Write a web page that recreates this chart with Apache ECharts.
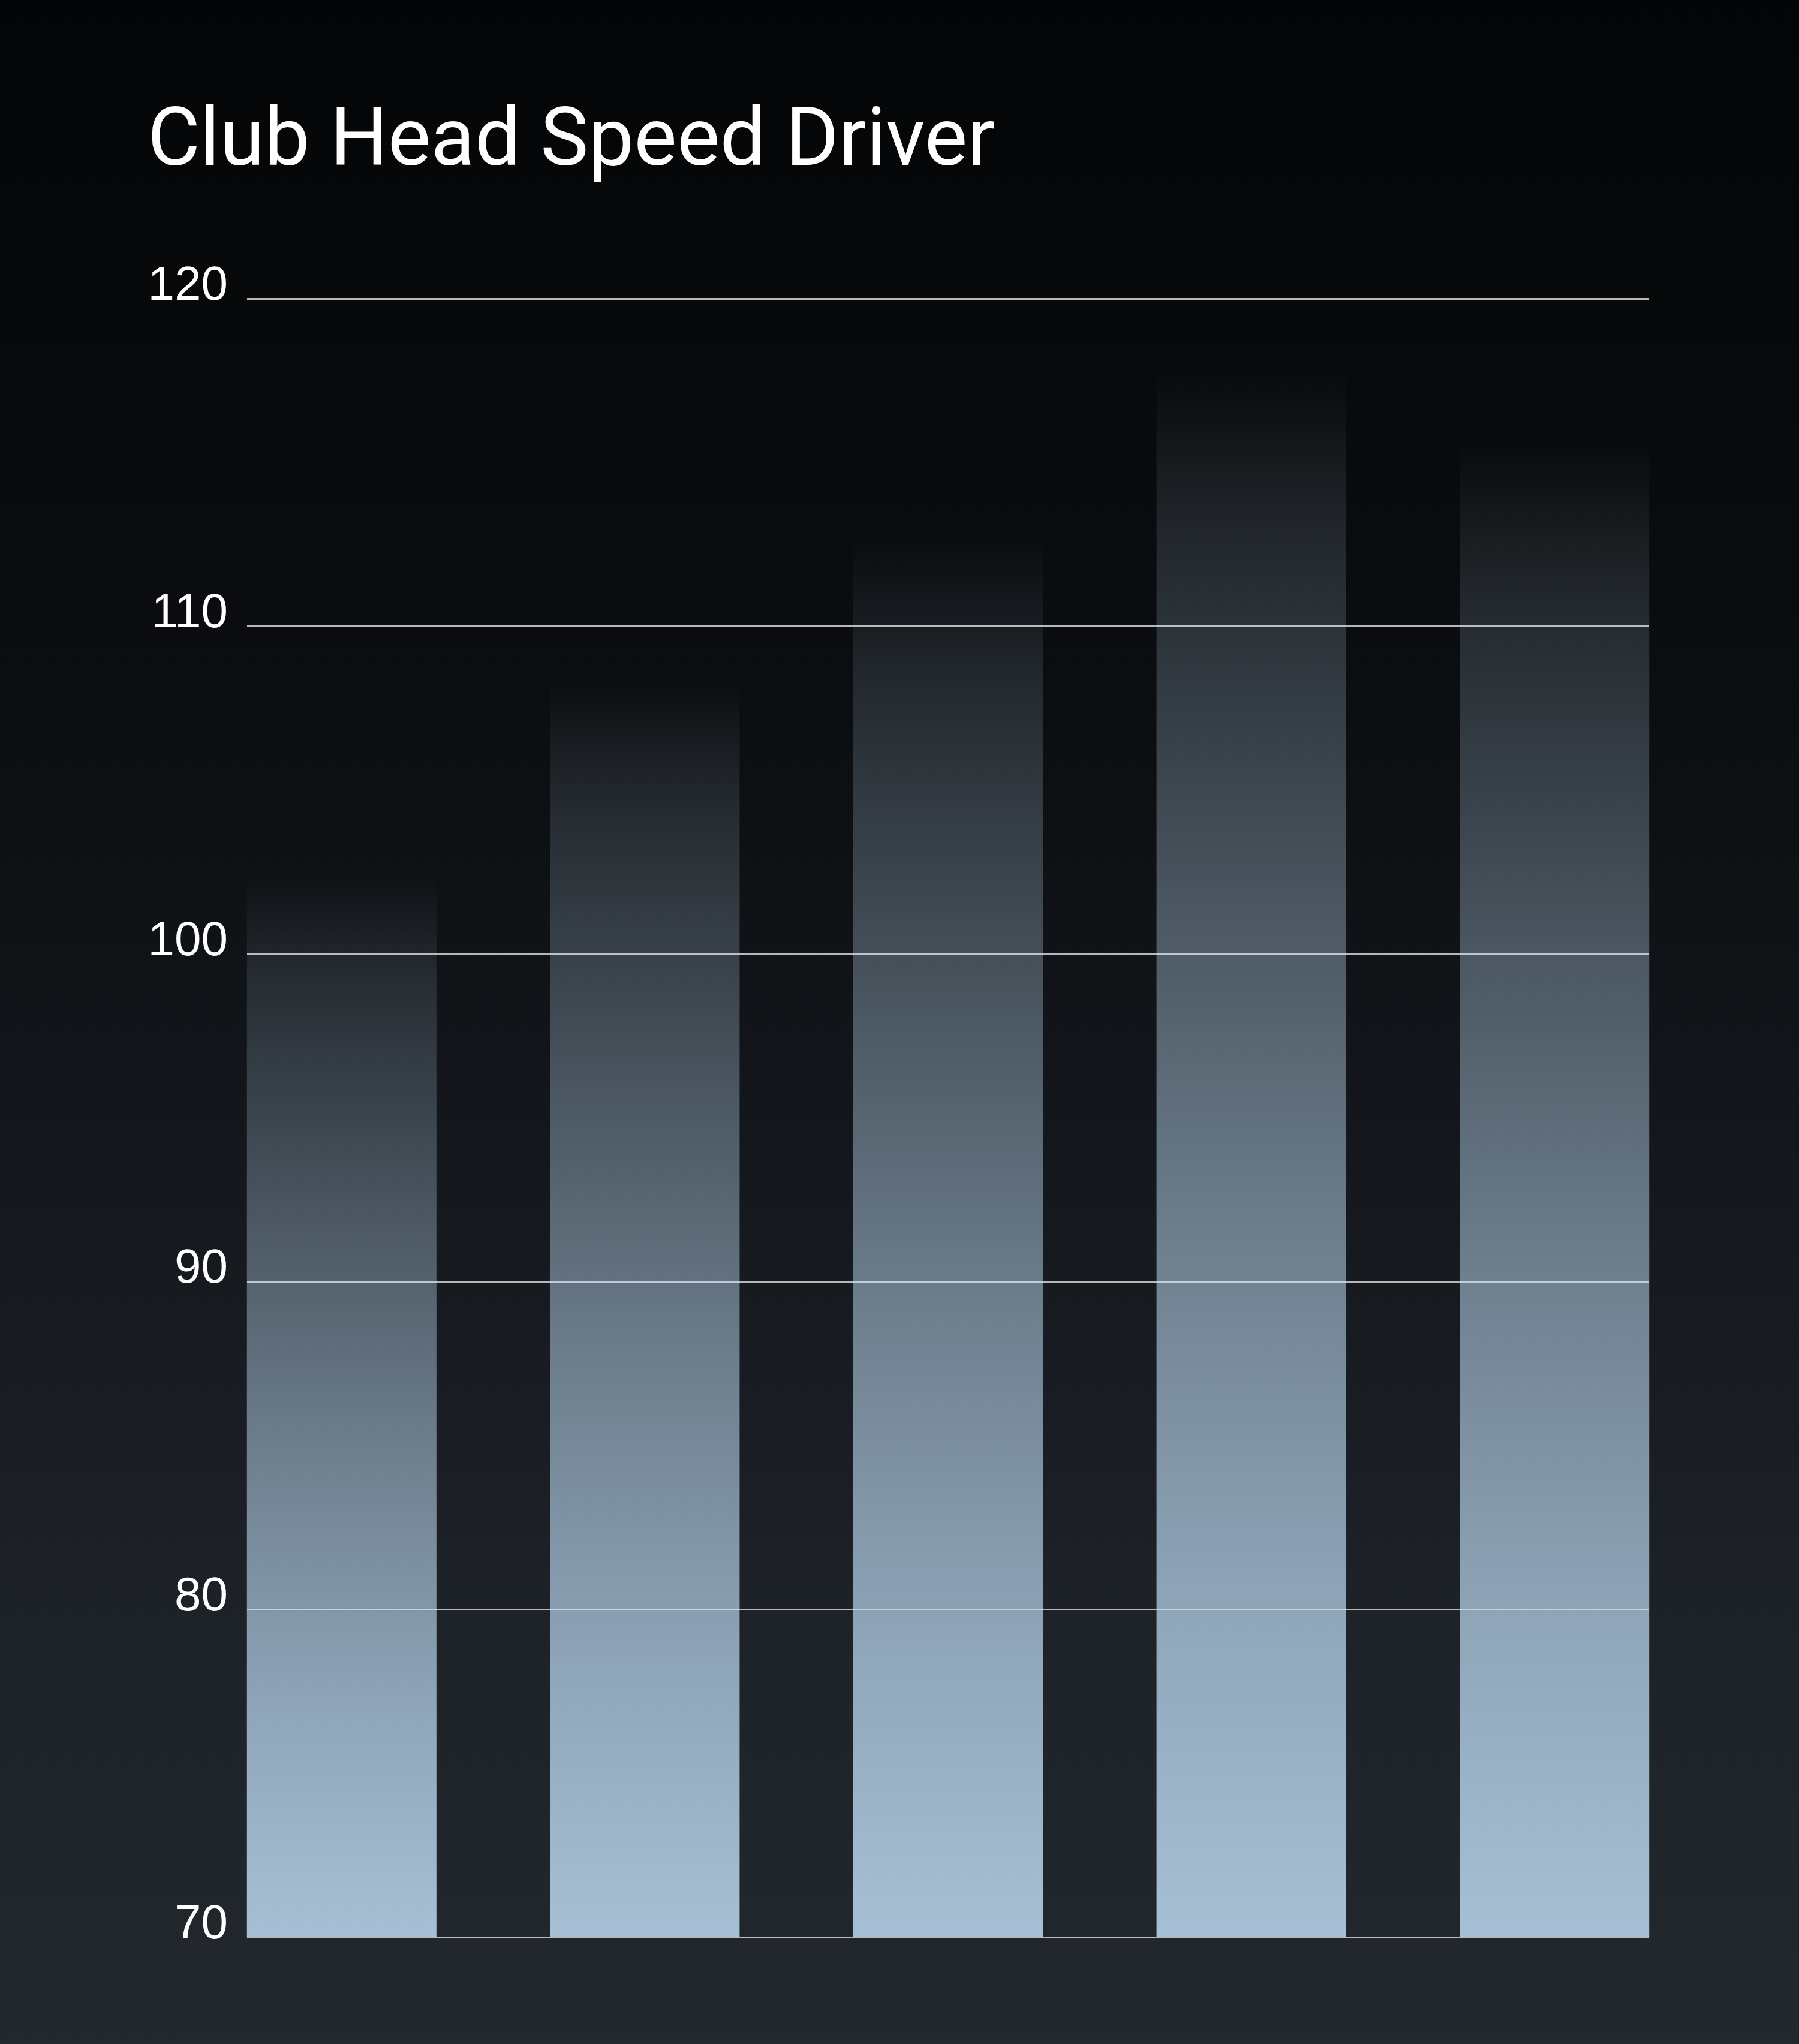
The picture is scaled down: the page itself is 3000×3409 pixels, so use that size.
<!DOCTYPE html>
<html>
<head>
<meta charset="utf-8">
<title>Club Head Speed Driver</title>
<script src="https://cdn.jsdelivr.net/npm/echarts@6.0.0/dist/echarts.min.js"></script>
<style>
    html, body { margin: 0; padding: 0; background: #0b0c0f; }
    #speedChart { width: 3000px; height: 3409px; }
</style>
</head>
<body>
<div id="speedChart"></div>
<script>
// data
var sessions = ['1', '2', '3', '4', '5'];
var speeds = [102.4, 108.4, 112.8, 117.9, 115.7];
var yTicks = [70, 80, 90, 100, 110, 120];

var myChart = echarts.init(document.getElementById('speedChart'));

// bar fades out to transparent at its top
var barColor = new echarts.graphic.LinearGradient(0, 0, 0, 1, [
    {offset: 0, color: 'rgba(199,230,255,0)'},
    {offset: 0.1, color: 'rgba(199,230,255,0.12)'},
    {offset: 0.4, color: 'rgba(199,230,255,0.37)'},
    {offset: 0.6, color: 'rgba(199,230,255,0.53)'},
    {offset: 0.8, color: 'rgba(199,230,255,0.68)'},
    {offset: 1, color: 'rgba(199,230,255,0.80)'}
]);

var option = {
    backgroundColor: new echarts.graphic.LinearGradient(0, 0, 0, 1, [
        {offset: 0, color: '#040506'},
        {offset: 0.3, color: '#0a0c0f'},
        {offset: 0.5, color: '#111418'},
        {offset: 0.78, color: '#1d2128'},
        {offset: 1, color: '#23282f'}
    ]),
    animation: false,
    title: {
        text: 'Club Head Speed Driver',
        left: 246,
        top: 174,
        padding: 0,
        textStyle: {
            color: '#ffffff',
            fontFamily: 'Roboto',
            fontWeight: 'normal',
            fontSize: 135,
            lineHeight: 135
        }
    },
    grid: [
        // bars: the bands reach half a gap past the gridlines
        {left: 317, right: 155, top: 498, bottom: 178},
        // gridlines and tick labels
        {left: 412, right: 250, top: 498, bottom: 178}
    ],
    xAxis: [
        {type: 'category', gridIndex: 0, data: sessions, show: false},
        {type: 'category', gridIndex: 1, data: sessions, show: false}
    ],
    yAxis: [
        {type: 'value', gridIndex: 0, min: yTicks[0], max: yTicks[yTicks.length - 1], interval: 10, show: false},
        {
            type: 'value',
            gridIndex: 1,
            min: yTicks[0],
            max: yTicks[yTicks.length - 1],
            interval: 10,
            axisLine: {show: false},
            axisTick: {show: false},
            axisLabel: {
                color: '#ffffff',
                fontFamily: 'Liberation Sans',
                fontSize: 80,
                margin: 32,
                verticalAlign: 'bottom',
                lineHeight: 41
            },
            splitLine: {
                show: true,
                lineStyle: {color: '#b8b8b8', width: 3}
            }
        }
    ],
    series: [
        {
            type: 'bar',
            xAxisIndex: 0,
            yAxisIndex: 0,
            barWidth: 316,
            data: speeds,
            itemStyle: {color: barColor}
        }
    ]
};

myChart.setOption(option);
</script>
</body>
</html>
